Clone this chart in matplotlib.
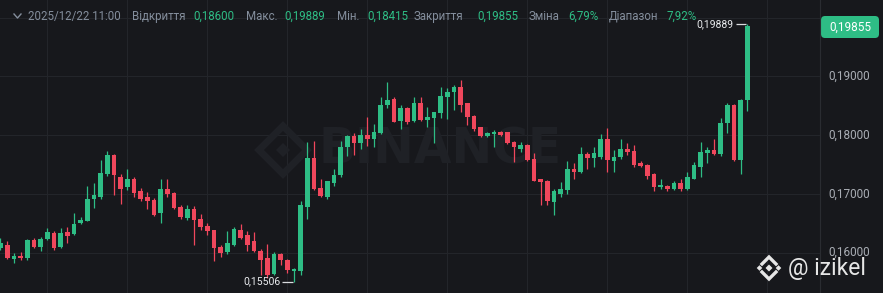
import numpy as np
import matplotlib
matplotlib.use("Agg")
import matplotlib.pyplot as plt
from matplotlib.patches import FancyBboxPatch, Polygon
from matplotlib.lines import Line2D
from matplotlib.transforms import IdentityTransform, blended_transform_factory

plt.rcParams['font.family'] = ['Roboto', 'DejaVu Sans']

# OHLC candles (last candle = 2025/12/22 11:00)
opens = [0.1608, 0.1613, 0.1589, 0.1595, 0.1591, 0.1621, 0.1610, 0.1623, 0.1634, 0.1610,
         0.1635, 0.1631, 0.1650, 0.1654, 0.1691, 0.1695, 0.1733, 0.1766, 0.1729, 0.1712,
         0.1725, 0.1704, 0.1695, 0.1690, 0.1667, 0.1709, 0.1701, 0.1678, 0.1659, 0.1675,
         0.1658, 0.1646, 0.1638, 0.1610, 0.1601, 0.1613, 0.1638, 0.1630, 0.1619, 0.1603,
         0.1591, 0.1563, 0.1597, 0.1587, 0.1568, 0.1568, 0.1678, 0.1761, 0.1710, 0.1695,
         0.1718, 0.1732, 0.1779, 0.1799, 0.1786, 0.1800, 0.1793, 0.1803, 0.1851, 0.1861,
         0.1824, 0.1846, 0.1824, 0.1854, 0.1826, 0.1829, 0.1837, 0.1865, 0.1873, 0.1881,
         0.1854, 0.1833, 0.1813, 0.1798, 0.1801, 0.1806, 0.1805, 0.1789, 0.1777, 0.1783,
         0.1760, 0.1725, 0.1721, 0.1686, 0.1699, 0.1707, 0.1743, 0.1738, 0.1767, 0.1761,
         0.1763, 0.1794, 0.1756, 0.1762, 0.1777, 0.1773, 0.1752, 0.1749, 0.1734, 0.1711,
         0.1714, 0.1708, 0.1718, 0.1708, 0.1726, 0.1746, 0.1770, 0.1775, 0.1768, 0.1820,
         0.1851, 0.1758, 0.18600]
highs = [0.1625, 0.1620, 0.1599, 0.1601, 0.1623, 0.1625, 0.1627, 0.1642, 0.1636, 0.1642,
         0.1644, 0.1668, 0.1661, 0.1714, 0.1718, 0.1758, 0.1773, 0.1767, 0.1733, 0.1743,
         0.1729, 0.1710, 0.1703, 0.1693, 0.1725, 0.1726, 0.1703, 0.1681, 0.1681, 0.1680,
         0.1665, 0.1651, 0.1639, 0.1613, 0.1636, 0.1644, 0.1648, 0.1637, 0.1635, 0.1606,
         0.1614, 0.1601, 0.1599, 0.1589, 0.1574, 0.1687, 0.1789, 0.1790, 0.1725, 0.1722,
         0.1742, 0.1790, 0.1800, 0.1803, 0.1810, 0.1831, 0.1818, 0.1864, 0.1891, 0.1864,
         0.1851, 0.1848, 0.1865, 0.1864, 0.1847, 0.1840, 0.1881, 0.1880, 0.1886, 0.1894,
         0.1855, 0.1835, 0.1814, 0.1806, 0.1809, 0.1807, 0.1806, 0.1790, 0.1789, 0.1784,
         0.1769, 0.1726, 0.1724, 0.1709, 0.1720, 0.1756, 0.1752, 0.1779, 0.1771, 0.1779,
         0.1802, 0.1812, 0.1775, 0.1794, 0.1787, 0.1783, 0.1756, 0.1751, 0.1735, 0.1725,
         0.1715, 0.1722, 0.1725, 0.1738, 0.1755, 0.1789, 0.1780, 0.1794, 0.1829, 0.1854,
         0.1853, 0.1861, 0.19889]
lows = [0.1604, 0.1589, 0.1582, 0.1587, 0.1587, 0.1608, 0.1603, 0.1621, 0.1604, 0.1607,
        0.1616, 0.1630, 0.1648, 0.1653, 0.1676, 0.1692, 0.1731, 0.1698, 0.1682, 0.1707,
        0.1695, 0.1687, 0.1675, 0.1663, 0.1650, 0.1695, 0.1675, 0.1658, 0.1655, 0.1613,
        0.1638, 0.1630, 0.1586, 0.1593, 0.1597, 0.1612, 0.1624, 0.1603, 0.1601, 0.1562,
        0.1556, 0.1562, 0.1579, 0.1565, 0.15506, 0.1562, 0.1658, 0.1707, 0.1695, 0.1691,
        0.1714, 0.1729, 0.1765, 0.1766, 0.1776, 0.1782, 0.1779, 0.1801, 0.1846, 0.1822,
        0.1810, 0.1818, 0.1823, 0.1824, 0.1814, 0.1786, 0.1829, 0.1827, 0.1843, 0.1840,
        0.1817, 0.1807, 0.1797, 0.1796, 0.1780, 0.1799, 0.1784, 0.1754, 0.1771, 0.1756,
        0.1721, 0.1681, 0.1681, 0.1664, 0.1695, 0.1699, 0.1725, 0.1735, 0.1743, 0.1746,
        0.1760, 0.1738, 0.1738, 0.1759, 0.1766, 0.1746, 0.1746, 0.1726, 0.1705, 0.1709,
        0.1704, 0.1707, 0.1705, 0.1707, 0.1725, 0.1729, 0.1752, 0.1766, 0.1764, 0.1803,
        0.1756, 0.1734, 0.18415]
closes = [0.1616, 0.1591, 0.1594, 0.1590, 0.1621, 0.1610, 0.1624, 0.1635, 0.1608, 0.1633,
          0.1629, 0.1649, 0.1655, 0.1692, 0.1698, 0.1736, 0.1766, 0.1732, 0.1709, 0.1726,
          0.1701, 0.1691, 0.1688, 0.1664, 0.1708, 0.1699, 0.1676, 0.1661, 0.1675, 0.1655,
          0.1644, 0.1637, 0.1608, 0.1599, 0.1616, 0.1640, 0.1625, 0.1613, 0.1603, 0.1587,
          0.1562, 0.1597, 0.1587, 0.1570, 0.1572, 0.1681, 0.1761, 0.1709, 0.1697, 0.1721,
          0.1732, 0.1779, 0.1799, 0.1786, 0.1800, 0.1793, 0.1805, 0.1852, 0.1860, 0.1823,
          0.1846, 0.1822, 0.1854, 0.1826, 0.1830, 0.1839, 0.1867, 0.1874, 0.1881, 0.1852,
          0.1831, 0.1810, 0.1799, 0.1804, 0.1805, 0.1800, 0.1786, 0.1779, 0.1783, 0.1758,
          0.1722, 0.1720, 0.1688, 0.1704, 0.1708, 0.1742, 0.1737, 0.1767, 0.1761, 0.1769,
          0.1794, 0.1758, 0.1763, 0.1777, 0.1772, 0.1749, 0.1747, 0.1730, 0.1712, 0.1715,
          0.1708, 0.1718, 0.1708, 0.1729, 0.1749, 0.1772, 0.1775, 0.1768, 0.1820, 0.1851,
          0.1758, 0.1860, 0.19855]

price_ticks = [0.16, 0.17, 0.18, 0.19]
header_labels = ["2025/12/22 11:00", "Відкриття", "0,18600", "Макс.", "0,19889", "Мін.",
                 "0,18415", "Закриття", "0,19855", "Зміна", "6,79%", "Діапазон", "7,92%"]
header_is_value = [False, False, True, False, True, False, True, False, True, False, True, False, True]

W, H = 883, 293
BG = '#17181c'
GRID = '#23252a'
UP = '#2ebd85'
DOWN = '#f0475c'
GREY = '#848e9c'
AXIS_TXT = '#a9adb4'


def fx(px):
    return px / W


def fy(py):
    return 1 - py / H


fig = plt.figure(figsize=(W / 100, H / 100), dpi=100, facecolor=BG)
ax = fig.add_axes([0, 0, 820 / W, 1])
ax.set_facecolor(BG)

o = np.array(opens)
h = np.array(highs)
l = np.array(lows)
c = np.array(closes)
idx = np.arange(len(o))
colors = np.where(c >= o, UP, DOWN)

step = 6.667  # px per candle
ax.set_xlim(-0.5 / step, (820 - 0.5) / step)
ax.set_ylim(0.19 - (H - 76.3) / 5877, 0.19 + 76.3 / 5877)

# grid
for p in price_ticks + [0.20]:
    ax.axhline(p, color=GRID, lw=0.8, zorder=0)
for i in range(7, 123, 12):
    ax.axvline(i, color=GRID, lw=0.8, zorder=0)

# candles
ax.vlines(idx, l, h, colors=colors, lw=0.9, zorder=3)
body_bottom = np.minimum(o, c)
body_h = np.maximum(np.abs(c - o), 0.00012)
ax.bar(idx, body_h, bottom=body_bottom, width=0.7, color=colors, linewidth=0, zorder=4)

for s in ax.spines.values():
    s.set_visible(False)
ax.set_xticks([])
ax.set_yticks([])

# faint BINANCE watermark
ax.text(fx(440), fy(150), "BINANCE", transform=fig.transFigure, fontsize=35,
        fontweight='bold', color='#1f2126', ha='center', va='center', zorder=1,
        family=['DejaVu Sans'])
cx, cy = 283, H - 150
ax.add_patch(Polygon([(cx - 24, cy), (cx, cy + 24), (cx + 24, cy), (cx, cy - 24)], closed=True,
                     fill=False, ec='#1f2126', lw=5, transform=IdentityTransform(), zorder=1))
ax.add_patch(Polygon([(cx - 7, cy), (cx, cy + 7), (cx + 7, cy), (cx, cy - 7)], closed=True,
                     fc='#1f2126', ec='none', transform=IdentityTransform(), zorder=1))

# price axis border and labels
fig.add_artist(Line2D([fx(820), fx(820)], [0, 1], color='#2a2c31', lw=0.8, transform=fig.transFigure))
ytrans = blended_transform_factory(ax.transAxes, ax.transData)
for p in price_ticks:
    ax.text(828 / 820, p, f"{p:.5f}".replace('.', ','), transform=ytrans, color=AXIS_TXT,
            fontsize=8.5, ha='left', va='center', clip_on=False)

# last price tag
tag = FancyBboxPatch((821, H - 38), 58, 22, boxstyle="round,pad=0,rounding_size=4",
                     fc=UP, ec='none', transform=IdentityTransform())
fig.add_artist(tag)
fig.text(fx(850), fy(27.5), f"{closes[-1]:.5f}".replace('.', ','), color='white',
         fontsize=8.5, ha='center', va='center')

# high / low markers
ihi = int(np.argmax(h))
ilo = int(np.argmin(l))
for i, p in ((ihi, h[ihi]), (ilo, l[ilo])):
    ax.plot([i - 1.75, i - 0.15], [p, p], color='#d9dbde', lw=0.9, zorder=5, solid_capstyle='butt')
    ax.text(i - 2.05, p, f"{p:.5f}".replace('.', ','), color='#eaecef', fontsize=7.5,
            ha='right', va='center', zorder=5)

# header
fig.add_artist(Line2D([fx(14), fx(17.5), fx(21)], [fy(14), fy(18), fy(14)], color=GREY, lw=1.0,
                      transform=fig.transFigure))
header_x = [28, 132, 193, 246, 284, 337, 367, 414, 477, 529, 568, 609, 667]
for txt, px, is_val in zip(header_labels, header_x, header_is_value):
    fig.text(fx(px), fy(16.5), txt, color=UP if is_val else GREY, fontsize=8.3,
             ha='left', va='center')

# bottom-right watermark
lx, ly = 769, H - 268
wm = '#e6e6e6'
for dx in (-9.5, 9.5):
    fig.add_artist(Polygon([(lx + dx - 2.8, ly), (lx + dx, ly + 2.8), (lx + dx + 2.8, ly),
                            (lx + dx, ly - 2.8)], closed=True, fc=wm, ec='none',
                           transform=IdentityTransform()))
fig.add_artist(Polygon([(lx - 3.5, ly), (lx, ly + 3.5), (lx + 3.5, ly), (lx, ly - 3.5)],
                       closed=True, fc=wm, ec='none', transform=IdentityTransform()))
for sgn in (1, -1):
    fig.add_artist(Line2D([lx - 7, lx, lx + 7], [ly + sgn * 4, ly + sgn * 11, ly + sgn * 4],
                          color=wm, lw=2.4, transform=IdentityTransform(), solid_joinstyle='miter'))
fig.text(fx(788), fy(268), "@ izikel", color=wm, fontsize=16.5, ha='left', va='center')

fig.savefig("out.png", dpi=100, facecolor=BG)
